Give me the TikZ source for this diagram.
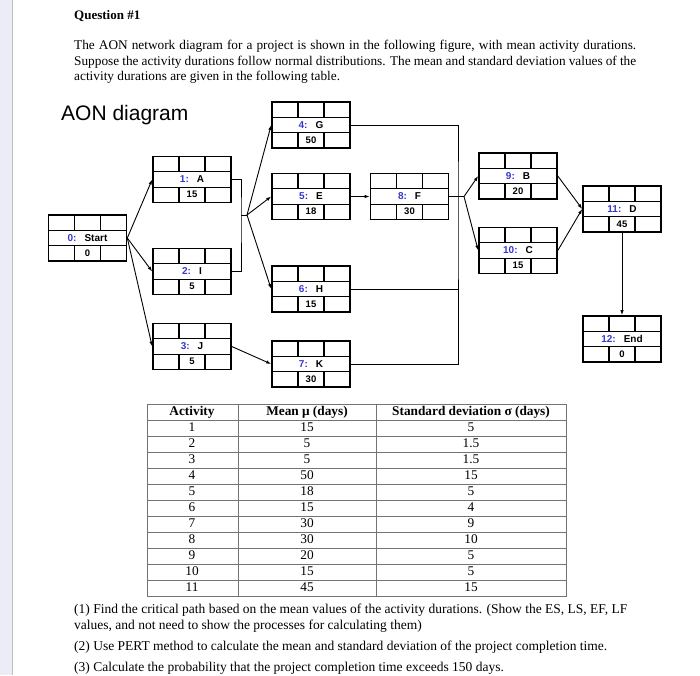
\documentclass[tikz,border=0pt]{standalone}
\usepackage{fontspec}
\setmainfont{Liberation Serif}
\setsansfont{Liberation Sans}
\usetikzlibrary{arrows.meta}
\definecolor{idblue}{RGB}{55,55,205}
\definecolor{stripcol}{RGB}{236,236,247}

\newcommand{\act}[5]{%
  \node[act] (#1) at (#2) {\textcolor{idblue}{#3:}\hspace{8pt}#4};
  \node[dur] (d#1) at ([yshift=-15.3pt]#1.center) {#5};
}
\newcommand{\fullline}[1]{\makebox[562pt][s]{#1}}

\begin{document}
\begin{tikzpicture}[x=1pt,y=-1pt,
    >={Latex[length=5pt,width=3.4pt]},
    link/.style={line width=0.9pt},
    act/.style={draw, line width=1.6pt, minimum width=78pt, minimum height=46pt,
      inner sep=0pt, font=\sffamily\bfseries\fontsize{10}{11}\selectfont,
      text height=7pt, text depth=1pt,
      path picture={
        \foreach \s in {15.3,30.7}
          \draw[line width=1.2pt] ([yshift=-\s pt]path picture bounding box.north west)
            -- ([yshift=-\s pt]path picture bounding box.north east);
        \foreach \s in {26,52} {
          \draw[line width=1.2pt] ([xshift=\s pt]path picture bounding box.north west)
            -- ([xshift=\s pt,yshift=-15.3pt]path picture bounding box.north west);
          \draw[line width=1.2pt] ([xshift=\s pt]path picture bounding box.south west)
            -- ([xshift=\s pt,yshift=15.3pt]path picture bounding box.south west);
        }}},
    dur/.style={inner sep=0pt, font=\sffamily\bfseries\fontsize{9.5}{10}\selectfont,
      text height=7pt, text depth=1pt},
    txt/.style={inner sep=0pt, font=\fontsize{13.5}{15.5}\selectfont},
    cell/.style={inner sep=0pt, font=\fontsize{13.3}{14}\selectfont,
      text height=9pt, text depth=2.5pt},
    hcell/.style={cell, font=\bfseries\fontsize{13.3}{14}\selectfont},
    grid/.style={line width=0.5pt, black!55}]

    \useasboundingbox (0,0) rectangle (700,675);
    \fill[stripcol] (0,0) rectangle (12,675);
    \draw[black!25, line width=0.8pt] (12.5,0) -- (12.5,675);

    \node[txt, anchor=base west, font=\bfseries\fontsize{13}{15}\selectfont] (quest) at (74,19) {Question \#1};
    \node[txt, anchor=north west, align=left, font=\fontsize{13.3}{15.5}\selectfont] (intro) at (74,40)
      {\fullline{The AON network diagram for a project is shown in the following figure, with mean activity durations.}\\
       \fullline{Suppose the activity durations follow normal distributions. The mean and standard deviation values of the}\\
       activity durations are given in the following table.};
    \node[anchor=base west, inner sep=0pt, font=\sffamily\fontsize{21}{23}\selectfont] (title) at (61,120) {AON diagram};

    \act{0}{87.5,238}{0}{Start}{0}
    \act{1}{192,179.5}{1}{A}{15}
    \act{2}{192,271.5}{2}{I}{5}
    \act{3}{192,346.5}{3}{J}{5}
    \act{4}{311,125}{4}{G}{50}
    \act{5}{311,196.5}{5}{E}{18}
    \act{6}{311,289}{6}{H}{15}
    \act{7}{311,364}{7}{K}{30}
    \act{8}{409.5,196.5}{8}{F}{30}
    \act{9}{518,176}{9}{B}{20}
    \act{10}{518,250.5}{10}{C}{15}
    \act{11}{622,209}{11}{D}{45}
    \act{12}{622,339}{12}{End}{0}

    \coordinate (b1) at (241,215);
    \coordinate (j1) at (247,215);
    \coordinate (b2) at (458,196.5);
    \coordinate (j2) at (464,196.5);

    \draw[link] (1.east) -| (b1) |- (2.east);
    \draw[link] (b1) -- (j1);
    \draw[link] (4.east) -| (b2) |- (7.east);
    \draw[link] (6.east) -- (6.east -| b2);
    \draw[link] (8.east) -- (j2);

    \path[link, ->]
        (0.east) edge (1.west)
        (0.east) edge (2.west)
        (0.east) edge (3.west)
        (j1) edge (4.west)
        (j1) edge (5.west)
        (j1) edge (6.west)
        (3.east) edge (7.west)
        (5.east) edge (8.west)
        (j2) edge (9.west)
        (j2) edge (10.west)
        (9.east) edge (11.west)
        (10.east) edge (11.west)
        (11) edge (12);

    \draw[grid] (147,404) rectangle (566,596);
    \foreach \y in {420,436,...,580}
        \draw[grid] (147,\y) -- (566,\y);
    \draw[grid] (238,404) -- (238,596);
    \draw[grid] (376,404) -- (376,596);

    \node[hcell] (hact) at (192,412) {Activity};
    \node[hcell] (hmean) at (307,412) {Mean μ (days)};
    \node[hcell] (hsd) at (471,412) {Standard deviation σ (days)};
    \foreach \a/\m/\s [count=\r] in {1/15/5,2/5/1.5,3/5/1.5,4/50/15,5/18/5,6/15/4,
        7/30/9,8/30/10,9/20/5,10/15/5,11/45/15} {
        \node[cell] (act\r) at (192,{412+16*\r}) {\a};
        \node[cell] (mean\r) at (307,{412+16*\r}) {\m};
        \node[cell] (sd\r) at (471,{412+16*\r}) {\s};
    }

    \node[txt, anchor=base west] (q1) at (74,613)
      {(1) Find the critical path based on the mean values of the activity durations. (Show the ES, LS, EF, LF};
    \node[txt, anchor=base west] (q1b) at (74,629)
      {values, and not need to show the processes for calculating them)};
    \node[txt, anchor=base west] (q2) at (74,650)
      {(2) Use PERT method to calculate the mean and standard deviation of the project completion time.};
    \node[txt, anchor=base west] (q3) at (74,671)
      {(3) Calculate the probability that the project completion time exceeds 150 days.};
\end{tikzpicture}
\end{document}
